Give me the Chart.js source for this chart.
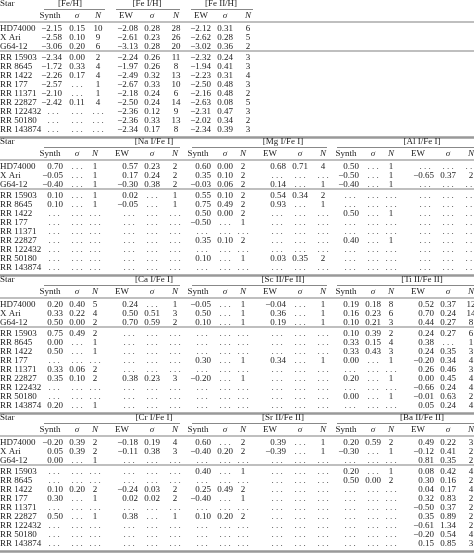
<!DOCTYPE html>
<html><head><meta charset="utf-8">
<script src="https://cdn.jsdelivr.net/npm/chart.js"></script>
<style>html,body{margin:0;padding:0;background:#fff;overflow:hidden}#w{width:474px;height:555px}</style>
</head><body><div id="w"><canvas id="c"></canvas></div>
<script>
const stars = ["HD74000","X Ari","G64-12","RR 15903","RR 8645","RR 1422","RR 177","RR 11371","RR 22827","RR 122432","RR 50180","RR 143874"];
const subHeads = ["Synth","σ","N","EW","σ","N"];
const feHeads = ["[Fe/H]","[Fe I/H]","[Fe II/H]"];
const feSub = ["Synth","σ","N","EW","σ","N","EW","σ","N"];
const feRows = [
"−2.15 0.15 10 −2.08 0.28 28 −2.12 0.31 6",
"−2.58 0.10 9 −2.61 0.23 26 −2.62 0.28 5",
"−3.06 0.20 6 −3.13 0.28 20 −3.02 0.36 2",
"−2.34 0.00 2 −2.24 0.26 11 −2.32 0.24 3",
"−1.72 0.33 4 −1.97 0.26 8 −1.94 0.41 3",
"−2.26 0.17 4 −2.49 0.32 13 −2.23 0.31 4",
"−2.57 . 1 −2.67 0.33 10 −2.50 0.48 3",
"−2.10 . 1 −2.18 0.24 6 −2.16 0.48 2",
"−2.42 0.11 4 −2.50 0.24 14 −2.63 0.08 5",
". . . −2.36 0.12 9 −2.31 0.47 3",
". . . −2.36 0.33 13 −2.02 0.34 2",
". . . −2.34 0.17 8 −2.34 0.39 3"];
const heads2 = ["[Na I/Fe I]","[Mg I/Fe I]","[Al I/Fe I]"];
const rows2 = [
"0.70 . 1 0.57 0.23 2 0.60 0.00 2 0.68 0.71 4 0.50 . 1 . . .",
"−0.05 . 1 0.17 0.24 2 0.35 0.10 2 . . . −0.50 . 1 −0.65 0.37 2",
"−0.40 . 1 −0.30 0.38 2 −0.03 0.06 2 0.14 . 1 −0.40 . 1 . . .",
"0.10 . 1 0.02 . 1 0.55 0.10 2 0.54 0.34 2 . . . . . .",
"0.10 . 1 −0.05 . 1 0.75 0.49 2 0.93 . 1 . . . . . .",
". . . . . . 0.50 0.00 2 . . . 0.50 . 1 . . .",
". . . . . . −0.50 . 1 . . . . . . . . .",
". . . . . . . . . . . . . . . . . .",
". . . . . . 0.35 0.10 2 . . . 0.40 . 1 . . .",
". . . . . . . . . . . . . . . . . .",
". . . . . . 0.10 . 1 0.03 0.35 2 . . . . . .",
". . . . . . . . . . . . . . . . . ."];
const heads3 = ["[Ca I/Fe I]","[Sc II/Fe II]","[Ti II/Fe II]"];
const rows3 = [
"0.20 0.40 5 0.24 . 1 −0.05 . 1 −0.04 . 1 0.19 0.18 8 0.52 0.37 12",
"0.33 0.22 4 0.50 0.51 3 0.50 . 1 0.36 . 1 0.16 0.23 6 0.70 0.24 14",
"0.50 0.00 2 0.70 0.59 2 0.10 . 1 0.19 . 1 0.10 0.21 3 0.44 0.27 8",
"0.75 0.49 2 . . . . . . . . . 0.10 0.39 2 0.24 0.27 6",
"0.00 . 1 . . . . . . . . . 0.33 0.15 4 0.38 . 1",
"0.50 . 1 . . . . . . . . . 0.33 0.43 3 0.24 0.35 3",
". . . . . . 0.30 . 1 0.34 . 1 0.00 . 1 −0.20 0.34 4",
"0.33 0.06 2 . . . . . . . . . . . . 0.26 0.46 3",
"0.35 0.10 2 0.38 0.23 3 −0.20 . 1 . . . 0.20 . 1 0.00 0.45 4",
". . . . . . . . . . . . . . . −0.66 0.24 4",
". . . . . . . . . . . . 0.00 . 1 −0.01 0.63 2",
"0.20 . 1 . . . . . . . . . . . . 0.05 0.24 4"];
const heads4 = ["[Cr I/Fe I]","[Sr II/Fe II]","[Ba II/Fe II]"];
const rows4 = [
"−0.20 0.39 2 −0.18 0.19 4 0.60 . 2 0.39 . 1 0.20 0.59 2 0.49 0.22 3",
"0.05 0.39 2 −0.11 0.38 3 −0.40 0.20 2 −0.39 . 1 −0.30 . 1 −0.12 0.41 2",
"0.00 . 1 . . . . . . . . . . . . 0.81 0.35 2",
". . . . . . 0.40 . 1 . . . 0.20 . 1 0.08 0.42 4",
". . . . . . . . . . . . 0.50 0.00 2 0.30 0.16 2",
"0.10 0.20 2 −0.24 0.03 2 0.25 0.49 2 . . . . . . 0.04 0.17 4",
"0.30 . 1 0.02 0.02 2 −0.40 . 1 . . . . . . 0.32 0.83 2",
". . . . . . . . . . . . . . . −0.50 0.37 2",
"0.50 . 1 0.38 . 1 0.10 0.20 2 . . . . . . 0.35 0.89 2",
". . . . . . . . . . . . . . . −0.61 1.34 2",
". . . . . . . . . . . . . . . −0.20 0.54 4",
". . . . . . . . . . . . . . . 0.15 0.85 3"];

const feCols = [[62,'right'],[77,'center'],[98,'center'],[138,'right'],[152,'center'],[176,'center'],[211,'right'],[225,'center'],[248,'center']];
const feSubX = [50,77,98,126,152,176,201,225,248];
const grpCols = [[63,'right'],[77,'center'],[95,'center'],[138,'right'],[152,'center'],[175,'center']];
const grpSubX = [50,77,95,122,152,175];
const grpOff = [0,148,296];
const rowY = [29,38,47,58,67,76,85,94,103,112,121,130];

const tablePlugin = {
  id:'table',
  afterDraw(chart){
    const ctx=chart.ctx, xs=chart.scales.x, ys=chart.scales.y;
    const X=v=>xs.getPixelForValue(v), Y=v=>ys.getPixelForValue(v);
    const txt=(s,x,y,al,it)=>{
      if(s==='.'){ if(al==='right'){x-=9;} al='center'; s='. . .'; }
      ctx.font=(it?'italic ':'')+'9px "Liberation Serif", "DejaVu Serif", serif';ctx.textAlign=al;ctx.textBaseline='middle';ctx.fillStyle='#222';ctx.fillText(s,X(x),Y(y));};
    const line=(x1,x2,y,w,c)=>{ctx.strokeStyle=c||'#999';ctx.lineWidth=w;ctx.beginPath();ctx.moveTo(X(x1),Y(y));ctx.lineTo(X(x2),Y(y));ctx.stroke();};
    const block=(b0,heads,hx,subs,rows,cols,subX,groups)=>{
      txt('Star',0,b0+4,'left');
      heads.forEach((h,i)=>txt(h,hx[i],b0+3.5,'center'));
      groups.forEach(g=>line(g[0],g[1],b0+9.5,1,'#888'));
      subs.forEach((s,i)=>txt(s,subX[i],b0+15.5,'center',s==='σ'||s==='N'));
      line(0,474,b0+22,1.5,'#aaa');
      line(0,474,b0+51,1.5,'#aaa');
      rows.forEach((r,ri)=>{
        txt(stars[ri],0,b0+rowY[ri],'left');
        r.split(' ').forEach((v,ci)=>{const c=cols[ci];txt(v,c[0],b0+rowY[ri],c[1]);});
      });
      line(0,474,b0+137.5,2.5,'#999');
    };
    block(0,feHeads,[70,147,221],feSub,feRows,feCols,feSubX,[[44,105],[116,180],[191,253]]);
    const gc=[],gs=[],subs=[];
    grpOff.forEach(o=>{grpCols.forEach(c=>gc.push([c[0]+o,c[1]]));grpSubX.forEach(x=>gs.push(x+o));subs.push(...subHeads);});
    const grps=[[44,180],[192,327],[337,474]];
    [[heads2,rows2],[heads3,rows3],[heads4,rows4]].forEach((p,i)=>block(138*(i+1),p[0],[154,283,422],subs,p[1],gc,gs,grps));
  }
};
new Chart(document.getElementById('c'),{
  type:'scatter',
  data:{datasets:[{data:[]}]},
  options:{responsive:true,maintainAspectRatio:false,animation:false,
    layout:{padding:0},
    plugins:{legend:{display:false},tooltip:{enabled:false}},
    scales:{x:{type:'linear',min:0,max:474,display:false},y:{type:'linear',min:0,max:555,reverse:true,display:false}}},
  plugins:[tablePlugin]
});
</script></body></html>
